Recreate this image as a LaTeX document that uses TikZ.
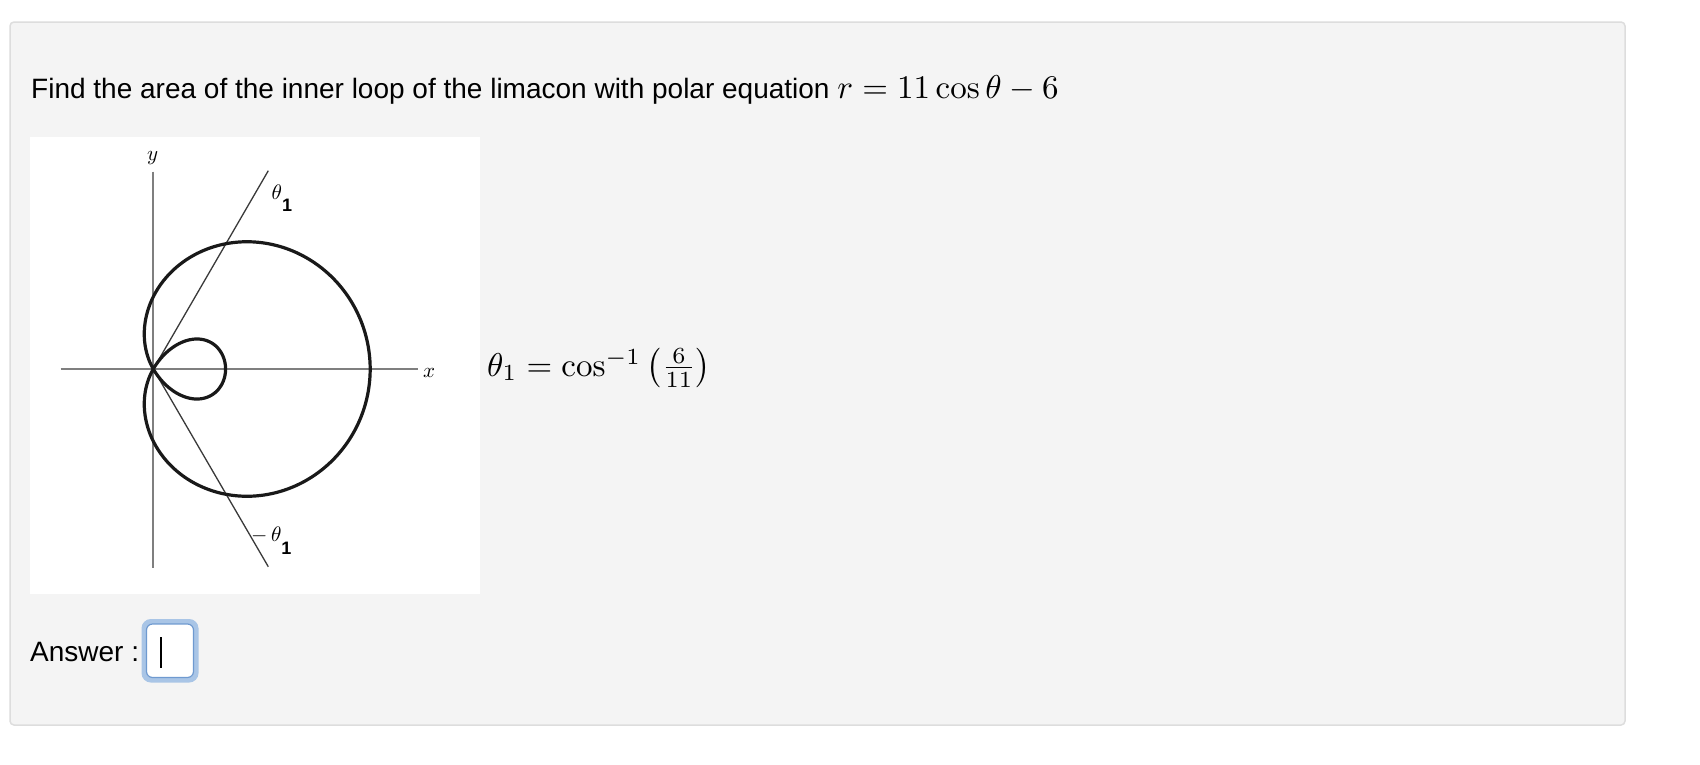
\documentclass[tikz,border=0pt]{standalone}
\usepackage{amsmath}
\usepackage[no-math]{fontspec}
\setmainfont{Liberation Sans}
\definecolor{panelfill}{HTML}{F4F4F4}
\definecolor{panelline}{HTML}{DDDDDD}
\definecolor{axisgray}{HTML}{7F7F7F}
\definecolor{raygray}{HTML}{3A3A3A}
\definecolor{glowblue}{HTML}{A9C5E6}
\definecolor{edgeblue}{HTML}{6F9AD0}
\newcommand{\qqbigmath}[1]{\scalebox{3.3}{\normalsize$#1$}}
\newcommand{\qqlblmath}[1]{\scalebox{2.1}{\normalsize$#1$}}
\tikzset{
  txt/.style={anchor=base west, inner sep=0pt, font=\fontsize{28}{32}\selectfont},
  mathbig/.style={anchor=base west, inner sep=0pt},
  lbl/.style={anchor=base west, inner sep=0pt},
  axisline/.style={draw=axisgray, line width=2pt},
  rayline/.style={draw=raygray, line width=1.3pt},
  curveline/.style={draw=black!90, line width=3.2pt, line join=round},
}
\begin{document}
\begin{tikzpicture}[x=1pt,y=-1pt]
\useasboundingbox (0,0) rectangle (1700,764);
\fill[white] (0,0) rectangle (1700,764);
% panel
\draw[fill=panelfill, draw=panelline, line width=1.5pt, rounded corners=4pt] (10,22) rectangle (1625,725);
% question text
\node[txt] (q) at (31,98) {Find the area of the inner loop of the limacon with polar equation \qqbigmath{r = 11\cos\theta - 6}};
% figure background
\fill[white] (30,137) rectangle (480,594);
% axes
\coordinate (O) at (153.3,369);
\coordinate (xl) at (60.7,369);
\coordinate (xr) at (418,369);
\coordinate (yt) at (153.3,171.7);
\coordinate (yb) at (153.3,568);
\draw[axisline] (xl) -- (xr);
\draw[axisline] (yt) -- (yb);
\node[lbl] (xlab) at (423,377) {\qqlblmath{x}};
\node[lbl] (ylab) at (147,160) {\qqlblmath{y}};
% rays
\coordinate (r1) at (268.3,170.7);
\coordinate (r2) at (268.3,566.7);
\draw[rayline] (O) -- (r1);
\draw[rayline] (O) -- (r2);
% limacon
\begin{scope}[shift={(O)}]
\draw[curveline] plot[domain=0:360, samples=240, smooth cycle] ({72.3*(2*cos(\x)-1)*cos(\x)}, {72.3*(2*cos(\x)-1)*sin(\x)*(1+0.18*max(0,2*cos(\x)-1))});
\end{scope}
% ray labels
\node[lbl] (t1) at (271.5,199) {\qqlblmath{\theta}\raisebox{-12.5pt}{\fontsize{18}{18}\selectfont\bfseries 1}};
\node[lbl] (t2) at (251,541.5) {\qqlblmath{-\mkern3mu\theta}\raisebox{-12.5pt}{\fontsize{18}{18}\selectfont\bfseries 1}};
% theta1 equation
\node[mathbig] (eq) at (487,376) {\qqbigmath{\theta_1 = \cos^{-1}\left(\tfrac{6}{11}\right)}};
% answer
\node[txt] (ans) at (30,661) {Answer :};
\draw[glowblue, line width=5pt, rounded corners=7pt] (144,621.5) rectangle (196,680);
\draw[edgeblue, fill=white, line width=1.2pt, rounded corners=6pt] (146.5,624) rectangle (193.5,677.5);
\coordinate (c1) at (161,637);
\coordinate (c2) at (161,668);
\draw[black, line width=1.6pt] (c1) -- (c2);
\end{tikzpicture}
\end{document}
